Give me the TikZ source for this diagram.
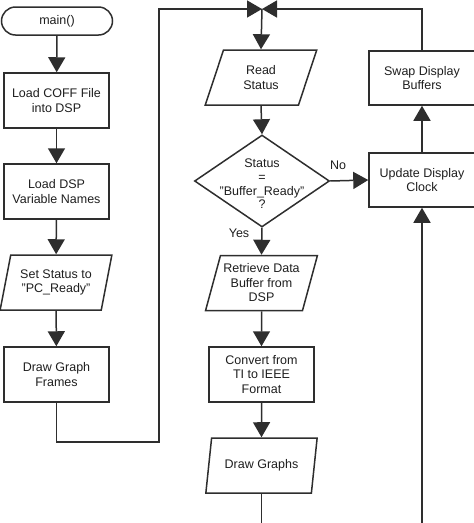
\documentclass[tikz,border=0pt]{standalone}
\usepackage{fontspec}
\setmainfont{Liberation Sans}
\usetikzlibrary{arrows.meta,shapes.geometric,shapes.misc}
\definecolor{ln}{HTML}{2E2E2E}
\definecolor{tx}{HTML}{1E1E1E}
\begin{document}
\begin{tikzpicture}[x=1pt,y=-1pt,
  every node/.style={font=\fontsize{12.5}{14.5}\selectfont, align=center, text=tx},
  shp/.style={draw=ln, line width=1.5pt, inner sep=0pt},
  box/.style={shp, minimum width=105, minimum height=55},
  io/.style={shp, trapezium, trapezium left angle=70, trapezium right angle=110, trapezium stretches=true, minimum width=112, minimum height=55},
  term/.style={shp, rounded rectangle, minimum width=111, minimum height=28},
  dec/.style={shp, diamond, minimum width=135, minimum height=92},
  arr/.style={draw=ln, line width=1.5pt, -{Triangle[length=15pt,width=17pt]}},
  ln/.style={draw=ln, line width=1.5pt}]
\useasboundingbox (0,0) rectangle (474,523);
% left column
\node[term] (main) at (57,21) {main()};
\node[box] (coff) at (56.5,100.5) {Load COFF File\\into DSP};
\node[box] (dsp) at (56.5,191.5) {Load DSP\\Variable Names};
\node[io, trapezium left angle=72, trapezium right angle=108] (set) at (56,282.5) {Set Status to\\"PC\_Ready"};
\node[box] (frames) at (56.5,374.5) {Draw Graph\\Frames};
% middle column
\coordinate (merge) at (262,9);
\node[io] (read) at (261,77.5) {Read\\Status};
\node[dec] (status) at (262,181) {};
\node[font=\fontsize{12.5}{13.7}\selectfont] (stxt) at (262,184) {Status\\=\\"Buffer\_Ready"\\?};
\node[io] (retr) at (261.5,283) {Retrieve Data\\Buffer from\\DSP};
\node[box] (conv) at (261.5,374.5) {Convert from\\TI to IEEE\\Format};
\node[io] (graphs) at (261.5,465.5) {Draw Graphs};
% right column
\node[box, minimum width=106, minimum height=54] (swap) at (422,78) {Swap Display\\Buffers};
\node[box, minimum width=106, minimum height=54] (upd) at (422,180) {Update Display\\Clock};
\coordinate (bot) at (422,524);
\coordinate (lb) at (56.5,442);
% labels
\node (no) at (338,165) {No};
\node (yes) at (239,233) {Yes};
% connectors
\draw[arr] (main) -- (coff);
\draw[arr] (coff) -- (dsp);
\draw[arr] (dsp) -- (set);
\draw[arr] (set) -- (frames);
\draw[arr] (frames.south) -- (lb) -| (159,9) -- (merge);
\draw[arr] (swap.north) |- (merge);
\draw[arr] (merge) -- (read.north);
\draw[arr] (read.south) -- (status.north);
\draw[arr] (status.east) -- (upd.west);
\draw[arr] (status.south) -- (retr.north);
\draw[arr] (retr.south) -- (conv.north);
\draw[arr] (conv.south) -- (graphs.north);
\draw[arr] (upd.north) -- (swap.south);
\draw[arr] (graphs.south) |- (bot) -- (upd.south);
\end{tikzpicture}
\end{document}
